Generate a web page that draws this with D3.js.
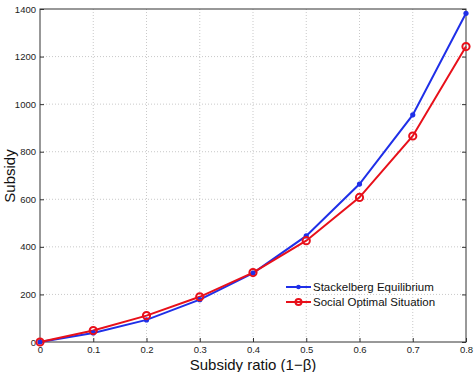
<!DOCTYPE html>
<html><head><meta charset="utf-8">
<script src="https://cdn.jsdelivr.net/npm/d3@7"></script>
<style>body{margin:0;background:#fff}svg{display:block}text{font-family:"Liberation Sans",Arial,sans-serif}</style>
</head><body><svg id="c" width="474" height="372"></svg>
<script>
const ratios = [0, 0.1, 0.2, 0.3, 0.4, 0.5, 0.6, 0.7, 0.8];
const stackelberg = [0, 38, 93, 178, 290, 446, 664, 955, 1382];
const socialOptimal = [0, 48, 111, 190, 292, 426, 608, 866, 1242];
const xTicks = [0, 0.1, 0.2, 0.3, 0.4, 0.5, 0.6, 0.7, 0.8];
const yTicks = [0, 200, 400, 600, 800, 1000, 1200, 1400];
const seriesNames = ["Stackelberg Equilibrium", "Social Optimal Situation"];

const svg = d3.select("#c");
const L = 40, R = 466, T = 9, B = 342;
const x = d3.scaleLinear().domain([0, 0.8]).range([L, R]);
const y = d3.scaleLinear().domain([0, 1400]).range([B, T]);

// grid
const g = svg.append("g");
g.selectAll(".gx").data(xTicks.slice(1, -1)).enter().append("line")
  .attr("x1", d => x(d)).attr("x2", d => x(d)).attr("y1", T).attr("y2", B)
  .attr("stroke", "#bbb").attr("stroke-width", 0.8).attr("stroke-dasharray", "1,2");
g.selectAll(".gy").data(yTicks.slice(1, -1)).enter().append("line")
  .attr("x1", L).attr("x2", R).attr("y1", d => y(d)).attr("y2", d => y(d))
  .attr("stroke", "#bbb").attr("stroke-width", 0.8).attr("stroke-dasharray", "1,2");

// axes
const fmtX = d => d === 0 ? "0" : d3.format(".1f")(d);
svg.append("g").attr("transform", `translate(0,${B})`)
  .call(d3.axisBottom(x).tickValues(xTicks).tickFormat(fmtX).tickSizeInner(-4).tickSizeOuter(0).tickPadding(4))
  .call(a => a.select(".domain").remove());
svg.append("g").attr("transform", `translate(${R},${T})`)
  .call(d3.axisTop(x).tickValues(xTicks).tickFormat("").tickSizeInner(-4).tickSizeOuter(0))
  .call(a => a.select(".domain").remove());
svg.append("g").attr("transform", `translate(${L},0)`)
  .call(d3.axisLeft(y).tickValues(yTicks).tickFormat(d3.format("d")).tickSizeInner(-4).tickSizeOuter(0).tickPadding(4))
  .call(a => a.select(".domain").remove());
svg.append("g").attr("transform", `translate(${R},0)`)
  .call(d3.axisRight(y).tickValues(yTicks).tickFormat("").tickSizeInner(-4).tickSizeOuter(0))
  .call(a => a.select(".domain").remove());
svg.selectAll(".tick text").attr("font-size", 9.5).attr("fill", "#222");
svg.selectAll(".tick line").attr("stroke", "#333");
svg.append("rect").attr("x", L).attr("y", T).attr("width", R - L).attr("height", B - T)
  .attr("fill", "none").attr("stroke", "#333").attr("stroke-width", 1);

// series
const line = d3.line().x((d, i) => x(ratios[i])).y(d => y(d));
svg.append("path").datum(stackelberg).attr("d", line).attr("fill", "none").attr("stroke", "#1f2fe8").attr("stroke-width", 2);
svg.append("path").datum(socialOptimal).attr("d", line).attr("fill", "none").attr("stroke", "#e8101a").attr("stroke-width", 2);
svg.selectAll(".ms").data(stackelberg).enter().append("circle")
  .attr("cx", (d, i) => x(ratios[i])).attr("cy", d => y(d)).attr("r", 2.6).attr("fill", "#1f2fe8");
svg.selectAll(".mr").data(socialOptimal).enter().append("circle")
  .attr("cx", (d, i) => x(ratios[i])).attr("cy", d => y(d)).attr("r", 3.6)
  .attr("fill", "none").attr("stroke", "#e8101a").attr("stroke-width", 2);

// legend
const leg = svg.append("g");
const colors = ["#1f2fe8", "#e8101a"];
seriesNames.forEach((n, i) => {
  const yy = 287 + i * 15;
  leg.append("line").attr("x1", 286).attr("x2", 311).attr("y1", yy).attr("y2", yy).attr("stroke", colors[i]).attr("stroke-width", 2);
  if (i === 0) leg.append("circle").attr("cx", 298.5).attr("cy", yy).attr("r", 2.3).attr("fill", colors[i]);
  else leg.append("circle").attr("cx", 298.5).attr("cy", yy).attr("r", 3).attr("fill", "none").attr("stroke", colors[i]).attr("stroke-width", 2);
  leg.append("text").attr("x", 313).attr("y", yy + 4.3).attr("font-size", 11.5).attr("fill", "#111").text(n);
});

// titles
svg.append("text").attr("x", 253).attr("y", 370).attr("text-anchor", "middle").attr("font-size", 15).attr("fill", "#111").text("Subsidy ratio (1\u2212\u03b2)");
svg.append("text").attr("transform", "translate(15,176) rotate(-90)").attr("text-anchor", "middle").attr("font-size", 15).attr("fill", "#111").text("Subsidy");
</script></body></html>
